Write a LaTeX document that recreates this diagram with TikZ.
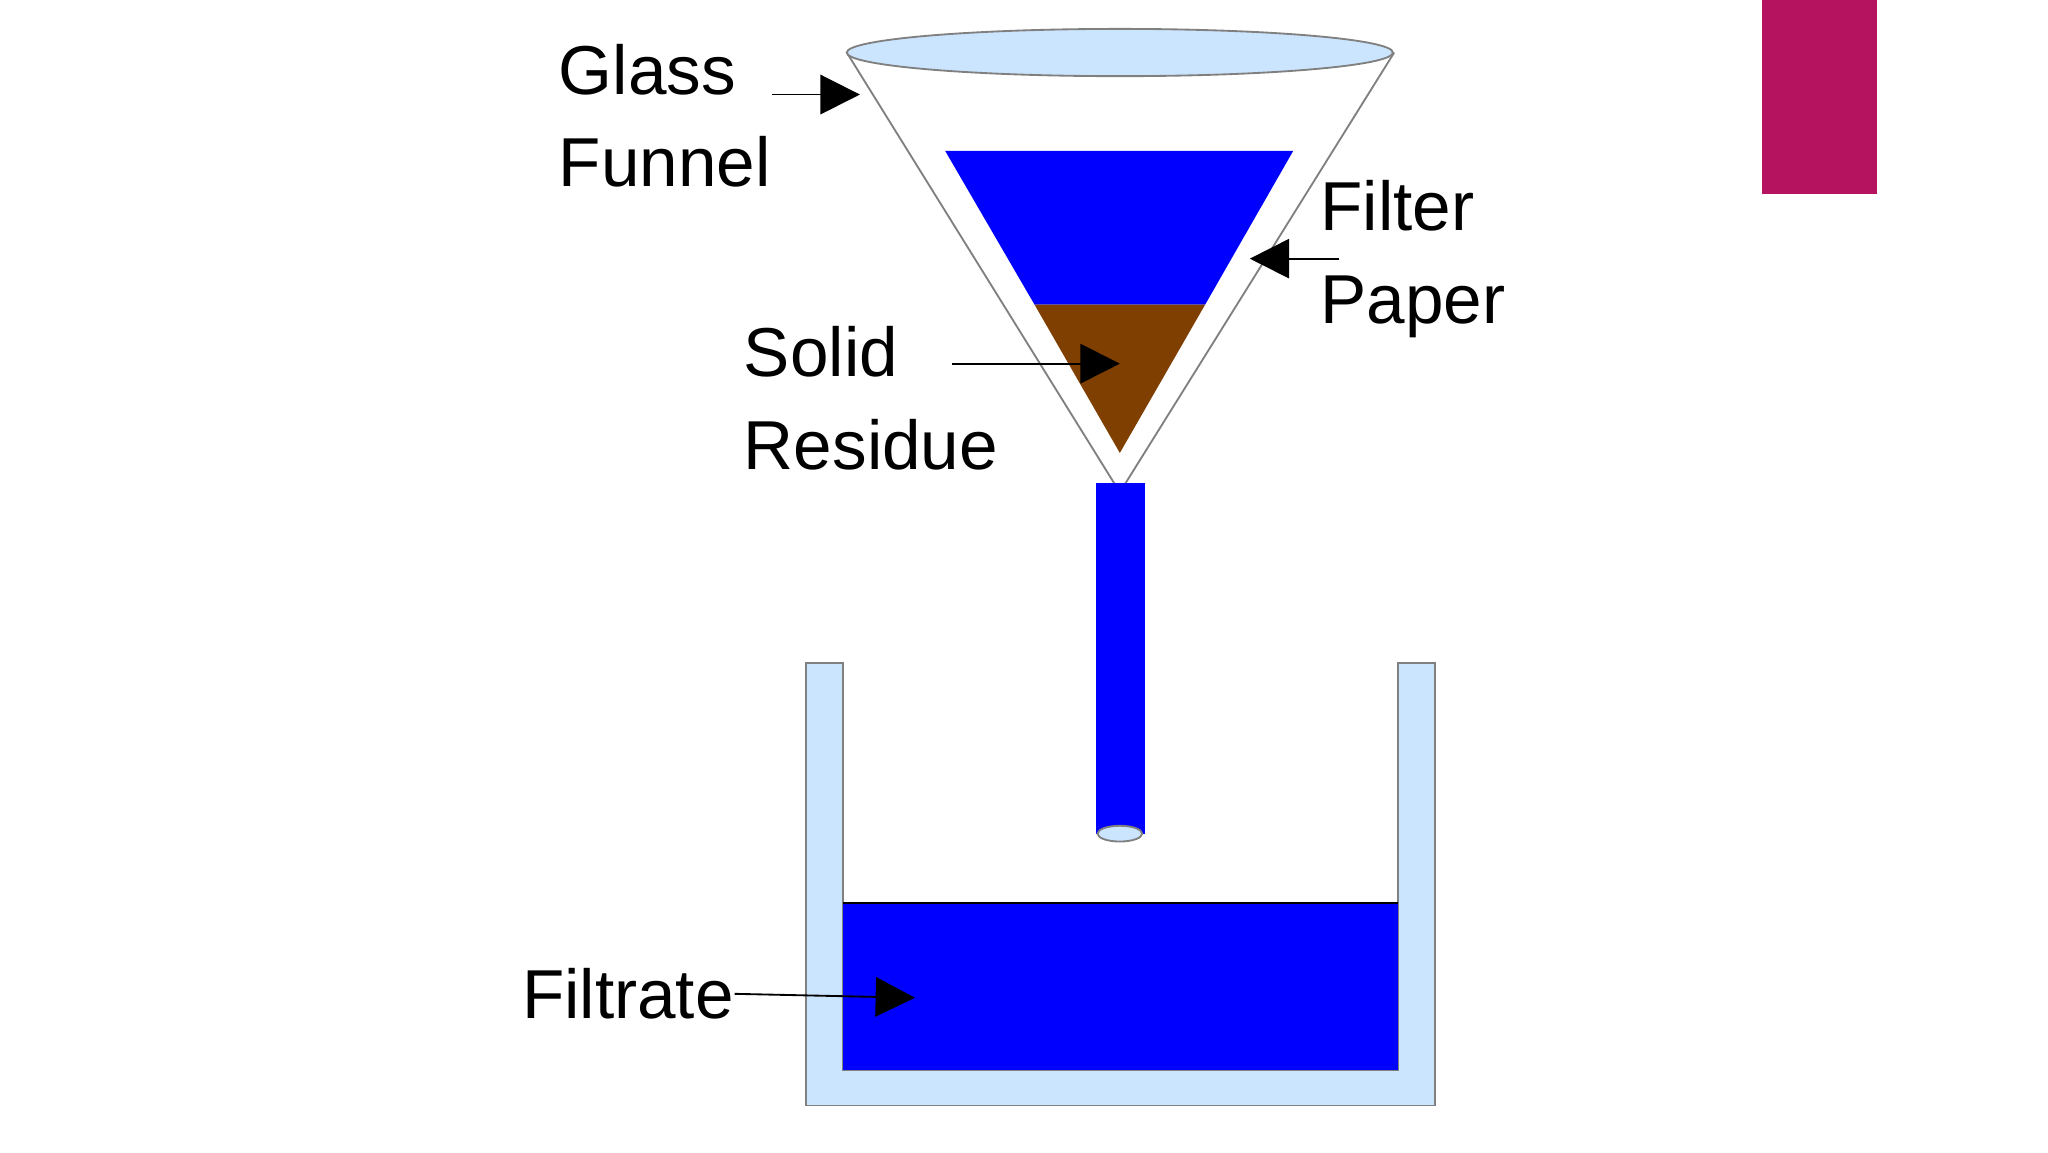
\documentclass[tikz,border=0pt]{standalone}
\usepackage{fontspec}
\setmainfont{Liberation Sans}
\usetikzlibrary{arrows.meta,positioning}
\definecolor{paleblue}{HTML}{CCE5FF}
\definecolor{liquid}{HTML}{0000FF}
\definecolor{residue}{HTML}{7F3F00}
\definecolor{magenta}{HTML}{B5135F}
\tikzset{
  lbl/.style={font=\fontsize{15}{20}\selectfont, align=left, inner sep=0pt},
  pointer/.style={thin, -{Triangle[length=0.3cm,width=0.3cm]}},
  glass/.style={draw=gray, fill=paleblue}
}
\begin{document}
\begin{tikzpicture}[x=0.01cm,y=-0.01cm]
		\useasboundingbox (0,0) rectangle (1560,877.5);

		% corner block
		\fill[magenta] (1342,0) rectangle (1430,148);

		% funnel
		\draw[draw=gray, fill=white] (645,40)--(853,375)--(1062,40);
		\draw[glass] (853,40) ellipse [x radius=208, y radius=18];
		\fill[liquid] (720,115)--(985,115)--(918,232)--(788,232)--cycle;
		\fill[residue] (788,232)--(918,232)--(853,345)--cycle;

		% stem
		\fill[liquid] (835,368) rectangle (872,635);
		\draw[glass] (853,635) ellipse [x radius=17, y radius=6];

		% beaker
		\draw[glass] (614,505)--(642,505)--(642,815)--(1065,815)--(1065,505)--(1093,505)--(1093,842)--(614,842)--cycle;
		\fill[liquid] (642,688) rectangle (1065,815);
		\draw (642,688)--(1065,688);

		% labels
		\node[lbl, anchor=north west] (glass) at (425,33) {Glass\\Funnel};
		\node[lbl, anchor=north west] (paper) at (1005,137) {Filter\\Paper};
		\node[lbl, anchor=north west] (solid) at (566,248) {Solid\\Residue};
		\node[lbl, anchor=west] (filtrate) at (397,757) {Filtrate};

		\coordinate (glasstip) at (655,72);
		\coordinate (papertip) at (952,197);
		\coordinate (solidtip) at (853,277);
		\coordinate (filtratetip) at (697,760);

		\draw[pointer] (588,72)--(glasstip);
		\draw[pointer] (1020,197)--(papertip);
		\draw[pointer] (725,277)--(solidtip);
		\draw[pointer] (filtrate.east)--(filtratetip);
	\end{tikzpicture}
\end{document}
